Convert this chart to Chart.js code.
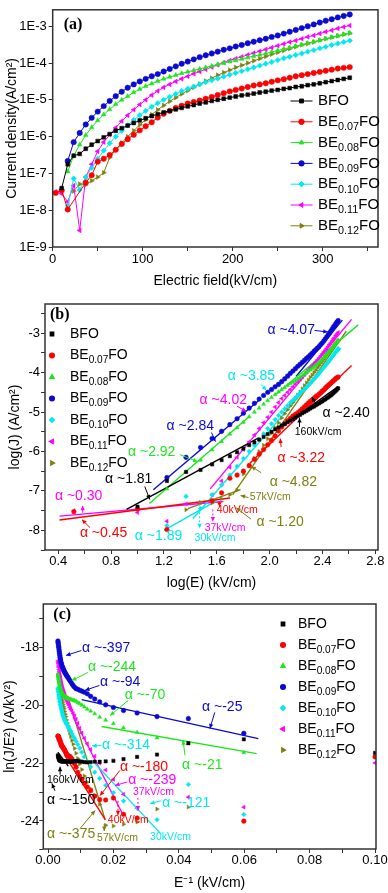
<!DOCTYPE html>
<html><head><meta charset="utf-8">
<script src="https://cdn.jsdelivr.net/npm/chart.js@4.4.1/dist/chart.umd.min.js"></script>
<style>
html,body{margin:0;padding:0;background:#fff;}
#wrap{position:relative;width:388px;height:893px;overflow:hidden;background:#fff;}
canvas{position:absolute;left:0;}
</style></head><body>
<div id="wrap">
<canvas id="ca" width="388" height="294" style="top:0"></canvas>
<canvas id="cb" width="388" height="302" style="top:294px"></canvas>
<canvas id="cc" width="388" height="297" style="top:596px"></canvas>
</div>
<script>
// ---------- DATA ----------
// Electric field values (kV/cm) shared by all samples
const E = [3.3,10,16.7,23.3,30,36.7,43.3,50,56.7,63.3,70,76.7,83.3,90,96.7,103.3,110,116.7,123.3,130,136.7,143.3,150,156.7,163.3,170,176.7,183.3,190,196.7,203.3,210,216.7,223.3,230,236.7,243.3,250,256.7,263.3,270,276.7,283.3,290,296.7,303.3,310,316.7,323.3,330];
// log10 of current density (A/cm^2), one array per sample (null = no point)
const LOGJ_BFO  = [null,-7.40,-6.75,-6.52,-6.47,-6.33,-6.22,-6.12,-6.02,-5.93,-5.84,-5.77,-5.70,-5.63,-5.56,-5.50,-5.44,-5.39,-5.34,-5.30,-5.26,-5.22,-5.18,-5.14,-5.10,-5.07,-5.03,-5.00,-4.97,-4.94,-4.91,-4.88,-4.86,-4.83,-4.80,-4.78,-4.75,-4.73,-4.70,-4.68,-4.65,-4.63,-4.60,-4.58,-4.55,-4.52,-4.49,-4.46,-4.43,-4.40];
const LOGJ_BE07 = [-7.53,-7.46,-7.98,null,null,-7.25,-7.05,-6.68,-6.60,-6.50,-6.36,-6.20,-6.07,-5.95,-5.83,-5.72,-5.61,-5.48,-5.38,-5.30,-5.22,-5.16,-5.10,-5.06,-5.02,-4.97,-4.92,-4.87,-4.82,-4.77,-4.73,-4.69,-4.65,-4.61,-4.58,-4.55,-4.51,-4.47,-4.44,-4.40,-4.36,-4.33,-4.30,-4.27,-4.24,-4.21,-4.18,-4.15,-4.13,-4.11];
const LOGJ_BE08 = [null,null,-6.95,-6.52,-6.22,-5.96,-5.75,-5.56,-5.40,-5.26,-5.12,-5.00,-4.90,-4.80,-4.71,-4.63,-4.56,-4.49,-4.43,-4.38,-4.33,-4.28,-4.24,-4.20,-4.16,-4.12,-4.08,-4.04,-4.00,-3.96,-3.93,-3.89,-3.85,-3.81,-3.78,-3.74,-3.70,-3.66,-3.62,-3.58,-3.54,-3.50,-3.46,-3.42,-3.38,-3.34,-3.30,-3.26,-3.22,-3.18];
const LOGJ_BE09 = [null,null,-6.66,-6.15,-5.90,-5.67,-5.49,-5.32,-5.17,-5.03,-4.90,-4.78,-4.67,-4.58,-4.50,-4.43,-4.36,-4.30,-4.23,-4.16,-4.09,-4.02,-3.96,-3.90,-3.84,-3.79,-3.74,-3.69,-3.64,-3.60,-3.55,-3.51,-3.46,-3.42,-3.38,-3.34,-3.29,-3.25,-3.20,-3.15,-3.10,-3.05,-3.00,-2.95,-2.90,-2.85,-2.81,-2.76,-2.72,-2.68];
const LOGJ_BE10 = [null,null,-7.88,-7.14,-7.45,-7.10,-6.85,-6.60,-6.38,-6.18,-6.00,-5.84,-5.69,-5.55,-5.42,-5.30,-5.19,-5.09,-5.00,-4.92,-4.84,-4.76,-4.70,-4.64,-4.58,-4.52,-4.47,-4.42,-4.37,-4.32,-4.27,-4.22,-4.17,-4.12,-4.07,-4.02,-3.97,-3.92,-3.87,-3.83,-3.78,-3.74,-3.69,-3.65,-3.60,-3.56,-3.51,-3.47,-3.43,-3.39];
const LOGJ_BE11 = [-7.50,-7.55,-7.77,-7.33,-8.55,-7.10,-6.75,-6.40,-6.15,-5.95,-5.76,-5.58,-5.42,-5.27,-5.13,-5.00,-4.87,-4.76,-4.66,-4.58,-4.50,-4.43,-4.36,-4.29,-4.23,-4.17,-4.11,-4.05,-3.99,-3.93,-3.88,-3.83,-3.78,-3.73,-3.68,-3.63,-3.58,-3.53,-3.48,-3.43,-3.39,-3.34,-3.29,-3.25,-3.20,-3.15,-3.11,-3.06,-3.02,-2.98];
const LOGJ_BE12 = [null,null,null,-7.48,-7.29,-7.31,-7.20,-7.10,-6.98,-6.57,-6.35,-6.17,-6.00,-5.84,-5.68,-5.54,-5.40,-5.27,-5.15,-5.04,-4.94,-4.84,-4.75,-4.66,-4.57,-4.49,-4.41,-4.33,-4.26,-4.19,-4.12,-4.06,-4.00,-3.94,-3.88,-3.82,-3.76,-3.71,-3.66,-3.61,-3.56,-3.51,-3.47,-3.43,-3.38,-3.34,-3.30,-3.26,-3.22,-3.19];

const NAMES = [['BFO'],['BE','0.07','FO'],['BE','0.08','FO'],['BE','0.09','FO'],['BE','0.10','FO'],['BE','0.11','FO'],['BE','0.12','FO']];
const LOGJ = [LOGJ_BFO,LOGJ_BE07,LOGJ_BE08,LOGJ_BE09,LOGJ_BE10,LOGJ_BE11,LOGJ_BE12];

// tick values
const X_TICKS_A = [0,50,100,150,200,250,300,350];
const Y_TICKS_A = [1e-9,1e-8,1e-7,1e-6,1e-5,1e-4,1e-3];
const X_TICKS_B = [0.4,0.6,0.8,1.0,1.2,1.4,1.6,1.8,2.0,2.2,2.4,2.6,2.8];
const Y_TICKS_B = [-8.5,-8,-7.5,-7,-6.5,-6,-5.5,-5,-4.5,-4,-3.5,-3,-2.5];
const X_TICKS_C = [0,0.01,0.02,0.03,0.04,0.05,0.06,0.07,0.08,0.09,0.10];
const Y_TICKS_C = [-25,-24,-23,-22,-21,-20,-19,-18,-17];

// fitted lines: [sample, x1, y1, x2, y2] in data units
const FITS_B = [
 [0,0.917,-7.47,1.92,-5.65],[0,2.20,-5.12,2.52,-4.35],
 [1,0.41,-7.74,1.70,-7.18],[1,1.85,-6.30,2.62,-3.82],
 [2,1.09,-7.32,1.85,-5.10],[2,2.05,-4.55,2.67,-2.79],
 [3,1.12,-6.97,1.92,-4.70],[3,2.20,-4.10,2.55,-2.67],
 [4,1.20,-8.00,1.60,-7.25],[4,1.42,-7.70,2.54,-3.38],
 [5,0.41,-7.64,1.65,-7.27],[5,1.55,-6.95,2.62,-2.65],
 [6,1.38,-7.45,1.78,-6.97],[6,1.72,-7.10,2.58,-2.95]
];
const FITS_C = [
 [0,0.0030,-21.62,0.0062,-22.10],
 [1,0.0050,-21.70,0.0175,-23.95],
 [2,0.0164,-20.73,0.0638,-21.67],
 [3,0.0103,-19.80,0.0643,-21.15],
 [4,0.0143,-22.00,0.0343,-24.42],
 [5,0.0077,-20.40,0.0230,-23.80],
 [6,0.0060,-19.66,0.0175,-23.97]
];
// annotations: text, colour index, x, y (data), font size, arrow [x1,y1,x2,y2], dashed
const ANN_B = [
 ['α ~4.07',3,1.984,-2.92,14,[2.34,-2.93,2.44,-2.97]],
 ['α ~3.85',4,1.683,-4.08,14,[1.936,-4.30,1.974,-4.45]],
 ['α ~4.02',5,1.47,-4.69,14,[1.752,-4.85,1.823,-4.98]],
 ['α ~2.84',3,1.22,-5.35,14,[1.56,-5.52,1.59,-5.75]],
 ['α ~2.40',0,2.40,-5.02,14,[2.35,-4.80,2.32,-4.62]],
 ['160kV/cm',0,2.19,-5.52,10.5,[2.226,-5.38,2.226,-5.15]],
 ['α ~2.92',2,0.928,-6.03,14,[1.32,-6.08,1.455,-6.26]],
 ['α ~1.81',0,0.754,-6.69,14,[1.055,-6.89,1.093,-7.22]],
 ['α ~3.22',1,2.06,-6.16,14,[2.087,-5.89,2.08,-5.67]],
 ['α ~4.82',6,2.0,-6.79,14,[1.936,-6.54,1.861,-6.38]],
 ['57kV/cm',6,1.85,-7.17,10.5,[1.84,-7.17,1.78,-7.12]],
 ['40kV/cm',1,1.60,-7.50,10.5,[1.62,-7.28,1.62,-7.40],1],
 ['α ~1.20',6,1.90,-7.80,14,[1.86,-7.72,1.747,-7.43]],
 ['37kV/cm',5,1.508,-7.95,10.5,[1.57,-7.47,1.57,-7.78],1],
 ['30kV/cm',4,1.432,-8.21,10.5,[1.47,-7.34,1.47,-7.95],1],
 ['α ~1.89',4,0.98,-8.16,14,null],
 ['α ~0.45',1,0.564,-8.08,14,[0.64,-7.93,0.58,-7.73]],
 ['α ~0.30',5,0.375,-7.14,14,[0.585,-7.55,0.585,-7.38]]
];
const ANN_C = [
 ['α ~-397',3,0.0104,-18.03,14,[0.0102,-18.10,0.0055,-18.27]],
 ['α ~-244',2,0.0122,-18.69,14,[0.0122,-18.86,0.0073,-19.14]],
 ['α ~-94',3,0.0159,-19.2,14,[0.0157,-19.31,0.0113,-19.48]],
 ['α ~-70',2,0.0235,-19.66,14,[0.0245,-19.83,0.019,-20.35]],
 ['α ~-25',3,0.0471,-20.07,14,[0.051,-20.24,0.0495,-20.8]],
 ['α ~-314',4,0.0165,-21.39,14,[0.0163,-21.39,0.0135,-21.40]],
 ['α ~-21',2,0.041,-22.08,14,[0.0419,-21.73,0.0413,-21.21]],
 ['α ~-180',1,0.022,-22.15,14,[0.022,-22.25,0.0159,-23.12]],
 ['α ~-239',5,0.0245,-22.6,14,[0.0243,-22.65,0.0205,-22.77]],
 ['37kV/cm',5,0.026,-23.01,10.5,[0.0275,-23.20,0.0275,-23.64],1],
 ['160kV/cm',0,-0.0003,-22.6,10.5,[0.0037,-22.40,0.0037,-22.12]],
 ['α ~-150',0,-0.0003,-23.29,14,[0.0021,-22.95,0.0012,-22.70]],
 ['α ~-121',4,0.0349,-23.39,14,[0.0345,-23.30,0.0312,-23.40]],
 ['40kV/cm',1,0.0183,-23.98,10.5,[0.0214,-23.30,0.0214,-23.80],1],
 ['α ~-375',6,-0.0003,-24.47,14,[0.0098,-24.26,0.0144,-23.64]],
 ['57kV/cm',6,0.015,-24.6,10.5,[0.0172,-24.10,0.0172,-24.35]],
 ['30kV/cm',4,0.0312,-24.57,10.5,null]
];

// ---------- STYLE ----------
const COLORS = ['#000000','#ff0000','#1ee61e','#0a0ad2','#00e8f0','#ff00ff','#808010'];
const STYLES = ['rect','circle','triangle','circle','rectRot','triangle','triangle'];
const ROT = [0,0,0,0,0,-90,90];
const FONT = '"Liberation Sans", Arial, sans-serif';
Chart.defaults.font.family = FONT;
Chart.defaults.color = '#000';

function subText(ctx, parts, x, y, fs, color){
  ctx.fillStyle = color; ctx.textBaseline = 'middle'; ctx.textAlign = 'left';
  let cx = x;
  parts.forEach((p,j)=>{
    const s = (j===1);
    ctx.font = (s ? fs*0.72 : fs) + 'px ' + FONT;
    ctx.fillText(p, cx, y + (s ? fs*0.36 : 0));
    cx += ctx.measureText(p).width;
  });
}
function arrow(ctx,x1,y1,x2,y2,col,dash){
  ctx.save(); ctx.strokeStyle=col; ctx.fillStyle=col; ctx.lineWidth=1;
  if(dash) ctx.setLineDash([2,2]);
  ctx.beginPath(); ctx.moveTo(x1,y1); ctx.lineTo(x2,y2); ctx.stroke();
  ctx.setLineDash([]);
  const a=Math.atan2(y2-y1,x2-x1), h=5;
  ctx.beginPath(); ctx.moveTo(x2,y2);
  ctx.lineTo(x2-h*Math.cos(a-0.45), y2-h*Math.sin(a-0.45));
  ctx.lineTo(x2-h*Math.cos(a+0.45), y2-h*Math.sin(a+0.45));
  ctx.closePath(); ctx.fill(); ctx.restore();
}
function decor(opts){
  return {
    id:'decor',
    afterDatasetsDraw(chart){
      const ctx=chart.ctx, xs=chart.scales.x, ys=chart.scales.y;
      (opts.ann||[]).forEach(a=>{
        const col=COLORS[a[1]];
        ctx.save();
        ctx.fillStyle=col; ctx.font=a[4]+'px '+FONT; ctx.textBaseline='middle'; ctx.textAlign='left';
        ctx.fillText(a[0], xs.getPixelForValue(a[2]), ys.getPixelForValue(a[3]));
        ctx.restore();
        if(a[5]) arrow(ctx, xs.getPixelForValue(a[5][0]), ys.getPixelForValue(a[5][1]), xs.getPixelForValue(a[5][2]), ys.getPixelForValue(a[5][3]), col, a[6]);
      });
    },
    afterDraw(chart){
      const ctx=chart.ctx, ca=chart.chartArea;
      ctx.save();
      ctx.strokeStyle='#333'; ctx.lineWidth=1.5;
      ctx.strokeRect(ca.left, ca.top, ca.right-ca.left, ca.bottom-ca.top);
      // panel label
      ctx.fillStyle='#000'; ctx.font='bold 16px "Liberation Serif", "Times New Roman", serif';
      ctx.textBaseline='middle'; ctx.textAlign='left';
      ctx.fillText(opts.label, ca.left+opts.lx, ca.top+opts.ly);
      // legend
      const L=opts.legend;
      NAMES.forEach((n,i)=>{
        const y=L.y0+i*L.dy;
        ctx.strokeStyle=COLORS[i]; ctx.fillStyle=COLORS[i];
        if(L.line){ ctx.lineWidth=1; ctx.beginPath(); ctx.moveTo(L.mx-11,y); ctx.lineTo(L.mx+11,y); ctx.stroke(); }
        Chart.helpers.drawPoint(ctx,{pointStyle:STYLES[i],rotation:ROT[i],radius:L.r,borderWidth:0.5},L.mx,y);
        subText(ctx,n,L.tx,y,L.fs,'#000');
      });
      ctx.restore();
    }
  };
}
function axisTicks(list){
  return s => { s.ticks = list.map(v=>({value:v})); };
}
const gridCfg = {drawOnChartArea:false, drawTicks:true, tickLength:4, color:'#333', lineWidth:1};
function pts(i, fx, fy){
  const out=[];
  E.forEach((e,k)=>{ const v=LOGJ[i][k]; if(v!==null) out.push({x:fx(e), y:fy(v,e)}); });
  return out;
}
function seriesDS(i, fx, fy, line, r){
  return {label:NAMES[i].join(''), data:pts(i,fx,fy), showLine:line, borderColor:COLORS[i], backgroundColor:COLORS[i],
    borderWidth:1, pointStyle:STYLES[i], pointRotation:ROT[i], pointRadius:r, pointBorderWidth:0.5, pointHoverRadius:r};
}
function fitDS(f){
  return {data:[{x:f[1],y:f[2]},{x:f[3],y:f[4]}], showLine:true, borderColor:COLORS[f[0]], borderWidth:1.4, pointRadius:0};
}
const common = {responsive:false, animation:false, events:[], plugins:{legend:{display:false}, tooltip:{enabled:false}}};

// ---------- (a) J vs E ----------
new Chart(document.getElementById('ca'), {
  type:'scatter',
  data:{datasets: LOGJ.map((_,i)=>seriesDS(i, e=>e, v=>Math.pow(10,v), true, 2.7))},
  options:Object.assign({}, common, {
    layout:{padding:{top:1,right:10,left:0,bottom:0}},
    scales:{
      x:{type:'linear', min:0, max:361.4, afterBuildTicks:axisTicks(X_TICKS_A), afterFit:s=>{s.height=47;},
         grid:gridCfg, border:{display:false},
         ticks:{padding:1, font:{size:13}, callback:v=> (v%100===0? String(v):'')},
         title:{display:true, text:'Electric field(kV/cm)', font:{size:14}, padding:{top:4,bottom:4}}},
      y:{type:'logarithmic', min:1e-9, max:2.8e-3, afterBuildTicks:axisTicks(Y_TICKS_A), afterFit:s=>{s.width=52.7;},
         grid:gridCfg, border:{display:false},
         ticks:{padding:2, font:{size:13}, callback:v=>'1E'+Math.round(Math.log10(v))},
         title:{display:true, text:'Current density(A/cm²)', font:{size:14}, padding:{top:4,bottom:4}}}
    }
  }),
  plugins:[decor({label:'(a)', lx:11, ly:15, legend:{mx:301.5, tx:318, y0:101, dy:20.8, r:2.7, fs:15, line:true}})]
});

// ---------- (b) log J vs log E ----------
new Chart(document.getElementById('cb'), {
  type:'scatter',
  data:{datasets: LOGJ.map((_,i)=>seriesDS(i, e=>Math.log10(e), v=>v, false, 2.3)).concat(FITS_B.map(fitDS))},
  options:Object.assign({}, common, {
    layout:{padding:{top:10,right:10,left:0,bottom:0}},
    scales:{
      x:{type:'linear', min:0.3, max:2.82, afterBuildTicks:axisTicks(X_TICKS_B), afterFit:s=>{s.height=46;},
         grid:gridCfg, border:{display:false},
         ticks:{padding:0, font:{size:13}, callback:v=> (Math.abs(v/0.4-Math.round(v/0.4))<1e-6 ? v.toFixed(1):'')},
         title:{display:true, text:'log(E) (kV/cm)', font:{size:14}, padding:{top:4,bottom:4}}},
      y:{type:'linear', min:-8.5, max:-2.26, afterBuildTicks:axisTicks(Y_TICKS_B), afterFit:s=>{s.width=45;},
         grid:gridCfg, border:{display:false},
         ticks:{padding:1, font:{size:13}, callback:v=> (Number.isInteger(v)? String(v):'')},
         title:{display:true, text:'log(J) (A/cm²)', font:{size:14}, padding:{top:6.5,bottom:4}}}
    }
  }),
  plugins:[decor({label:'(b)', lx:5, ly:11, ann:ANN_B, legend:{mx:52, tx:70, y0:40, dy:21.5, r:2.3, fs:14, line:false}})]
});

// ---------- (c) ln(J/E^2) vs 1/E ----------
new Chart(document.getElementById('cc'), {
  type:'scatter',
  data:{datasets: LOGJ.map((_,i)=>seriesDS(i, e=>1/e, (v,e)=>v*Math.LN10-2*Math.log(e), false, 2.3)).concat(FITS_C.map(fitDS))},
  options:Object.assign({}, common, {
    layout:{padding:{top:8,right:12,left:0,bottom:0}},
    scales:{
      x:{type:'linear', min:-0.00144, max:0.1003, afterBuildTicks:axisTicks(X_TICKS_C), afterFit:s=>{s.height=44;},
         grid:gridCfg, border:{display:false},
         ticks:{padding:0, font:{size:13}, callback:v=> (Math.round(v*100)%2===0 ? v.toFixed(2):'')},
         title:{display:true, text:'E⁻¹ (kV/cm)', font:{size:14}, padding:{top:4,bottom:1.6}}},
      y:{type:'linear', min:-24.97, max:-16.49, afterBuildTicks:axisTicks(Y_TICKS_C), afterFit:s=>{s.width=43.3;},
         grid:gridCfg, border:{display:false},
         ticks:{padding:0, font:{size:13}, callback:v=> (Math.round(v)%2===0? String(v):'')},
         title:{display:true, text:'ln(J/E²) (A/kV²)', font:{size:14}, padding:{top:1.6,bottom:4}}}
    }
  }),
  plugins:[decor({label:'(c)', lx:10, ly:11, ann:ANN_C, legend:{mx:283, tx:298, y0:28, dy:21, r:2.3, fs:14, line:false}})]
});
</script>
</body></html>
